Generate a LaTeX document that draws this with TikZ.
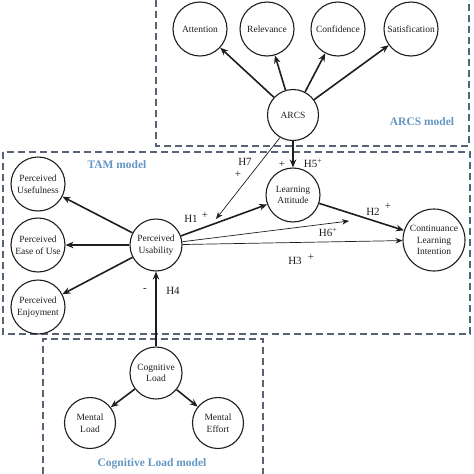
\documentclass[tikz,border=0pt]{standalone}
\usepackage{fontspec}
\setmainfont{Liberation Serif}
\usetikzlibrary{arrows.meta}
\definecolor{boxc}{RGB}{88,100,118}
\definecolor{lbl}{RGB}{100,150,195}
\definecolor{ink}{RGB}{30,30,30}
\tikzset{
 var/.style={circle, draw=ink, line width=1.1pt, minimum size=54pt, inner sep=0pt, align=center, text=ink, font=\fontsize{9.5}{11.5}\selectfont},
 strong/.style={draw=ink, line width=1.6pt, -{Stealth[length=8pt,width=6.5pt]}},
 weak/.style={draw=ink, line width=0.7pt, -{Stealth[length=7pt,width=5.5pt]}},
 group/.style={draw=boxc, line width=1.3pt, dash pattern=on 7pt off 4pt},
 grouplabel/.style={text=lbl, font=\bfseries\fontsize{11.5}{13}\selectfont},
 hyp/.style={text=ink, font=\fontsize{11}{13}\selectfont, inner sep=1pt},
}
\begin{document}
\begin{tikzpicture}[x=1pt,y=-1pt]
\useasboundingbox (0,0) rectangle (474,474);
% group boxes
\draw[group] (156,0) -- (156,146) -- (469,146) -- (469,0);
\draw[group] (3,152) rectangle (470,334);
\draw[group] (43,474) -- (43,339) -- (263,339) -- (263,474);
\node[grouplabel] (arcsm) at (422,122) {ARCS model};
\node[grouplabel] (tamm) at (117,165) {TAM model};
\node[grouplabel] (clm) at (152,464) {Cognitive Load model};
% nodes
\node[var] (att) at (200,29) {Attention};
\node[var] (rel) at (267,29) {Relevance};
\node[var] (con) at (338,29) {Confidence};
\node[var] (sat) at (411,29) {Satisfication};
\node[var, minimum size=51pt] (arcs) at (293,115) {ARCS};
\node[var] (pus) at (38,184) {Perceived\\Usefulness};
\node[var] (peu) at (38,245) {Perceived\\Ease of Use};
\node[var] (pen) at (38,307) {Perceived\\Enjoyment};
\node[var, minimum size=52pt] (pu) at (156,245) {Perceived\\Usability};
\node[var] (la) at (293,195) {Learning\\Attitude};
\node[var, minimum size=62pt] (cli) at (434,240) {Continuance\\Learning\\Intention};
\node[var, minimum size=52pt] (cl) at (156,373) {Cognitive\\Load};
\node[var, minimum size=51pt] (ml) at (90,423) {Mental\\Load};
\node[var, minimum size=51pt] (me) at (218,423) {Mental\\Effort};
% ARCS arrows
\draw[strong] (arcs) -- (att);
\draw[strong] (arcs) -- (rel);
\draw[strong] (arcs) -- (con);
\draw[strong] (arcs) -- (sat);
\draw[strong] (arcs) -- (la);
% TAM arrows
\draw[strong] (pu) -- (pus);
\draw[strong] (pu) -- (peu);
\draw[strong] (pu) -- (pen);
\draw[strong] (pu) -- (la);
\draw[strong] (la) -- (cli);
\draw[weak] (pu) -- (cli);
\coordinate (h6end) at (349,221);
\draw[weak] (pu) -- (h6end);
\coordinate (h7end) at (216,219);
\draw[weak] (arcs.240) -- (h7end);
% CL arrows
\draw[strong] (cl) -- (pu);
\draw[strong] (cl) -- (ml);
\draw[strong] (cl) -- (me);
% hypothesis labels
\node[hyp] (h7) at (245,162) {H7};
\node[hyp] (h7p) at (238,174) {+};
\node[hyp] (h5p) at (282,164) {+};
\node[hyp] (h5) at (313,163) {H5\textsuperscript{+}};
\node[hyp] (h1) at (191,219) {H1};
\node[hyp] (h1p) at (205,215) {+};
\node[hyp] (h2) at (373,212) {H2};
\node[hyp] (h2p) at (388,206) {+};
\node[hyp] (h6) at (328,232) {H6\textsuperscript{+}};
\node[hyp] (h3) at (295,261) {H3};
\node[hyp] (h3p) at (311,257) {+};
\node[hyp] (h4m) at (145,290) {-};
\node[hyp] (h4) at (173,291) {H4};
\end{tikzpicture}
\end{document}
